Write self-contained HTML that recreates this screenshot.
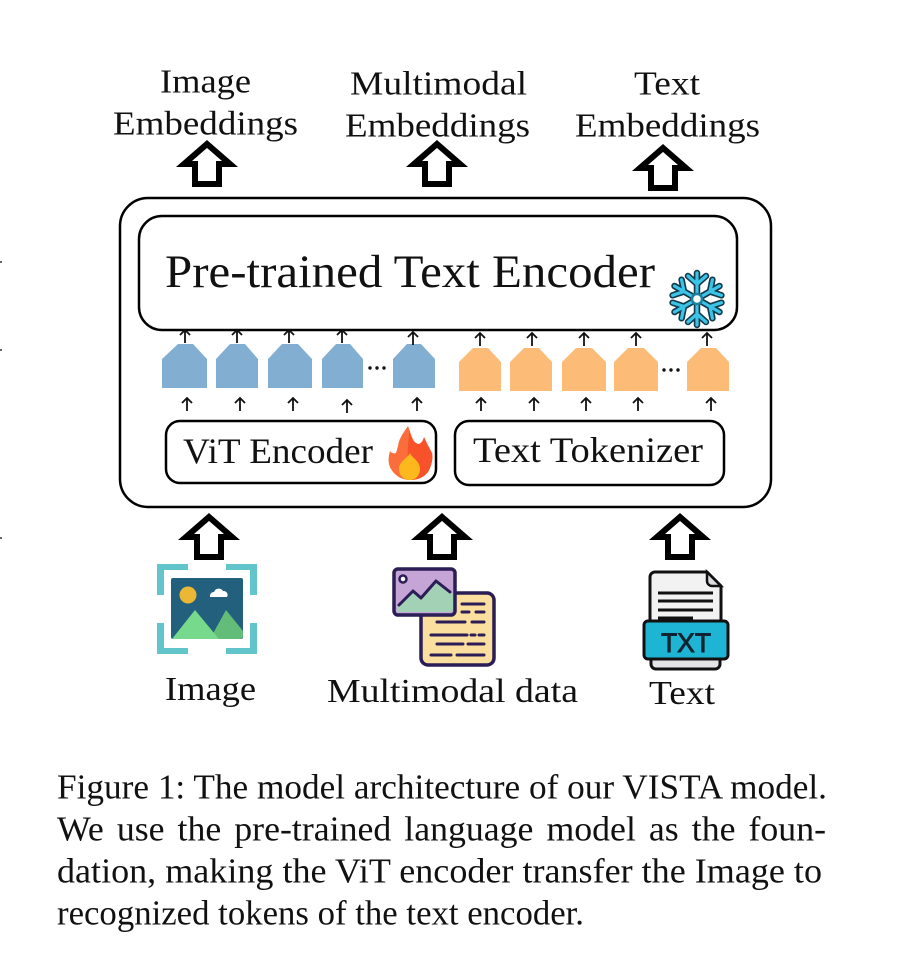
<!DOCTYPE html>
<html><head><meta charset="utf-8"><style>
html,body{margin:0;padding:0;background:#fff}
svg{display:block}
text{font-family:"Liberation Serif",serif;fill:#111}
</style></head><body>
<svg width="900" height="964" viewBox="0 0 900 964" xmlns="http://www.w3.org/2000/svg">
<defs>
<path id="big" d="M0 3L23 23H12V43H-12V23H-23Z" fill="#fff" stroke="#000" stroke-width="6" stroke-linejoin="miter"/>
<path id="sm" d="M0 14V1M-5 6L0 1L5 6" fill="none" stroke="#111" stroke-width="1.8"/>
<g id="arm" fill="none" stroke-linecap="round"><path d="M0 -6V-26M0 -15L-9 -23M0 -15L9 -23"/></g>
</defs>
<rect width="900" height="964" fill="#fff"/>
<!-- stray ticks -->
<path d="M0 262h2M0 350h2M0 538h2" stroke="#333" stroke-width="1.5"/>

<!-- top labels -->
<text x="160" y="92.5" font-size="34" textLength="91" lengthAdjust="spacingAndGlyphs">Image</text>
<text x="113" y="134.5" font-size="34" textLength="185" lengthAdjust="spacingAndGlyphs">Embeddings</text>
<text x="350" y="94.5" font-size="34" textLength="177" lengthAdjust="spacingAndGlyphs">Multimodal</text>
<text x="345" y="136.5" font-size="34" textLength="185" lengthAdjust="spacingAndGlyphs">Embeddings</text>
<text x="634" y="94.5" font-size="34" textLength="66" lengthAdjust="spacingAndGlyphs">Text</text>
<text x="575" y="136.5" font-size="34" textLength="185" lengthAdjust="spacingAndGlyphs">Embeddings</text>

<!-- big arrows -->
<use href="#big" x="207" y="141"/>
<use href="#big" x="437" y="141"/>
<use href="#big" x="663" y="145"/>
<use href="#big" x="209" y="514"/>
<use href="#big" x="442" y="514"/>
<use href="#big" x="680" y="514"/>

<!-- boxes -->
<rect x="120" y="198" width="651" height="309" rx="28" fill="#fff" stroke="#000" stroke-width="2.5"/>
<rect x="139" y="216" width="598" height="114" rx="23" fill="#fff" stroke="#000" stroke-width="2.5"/>
<rect x="166" y="421" width="270" height="62" rx="14" fill="#fff" stroke="#000" stroke-width="2.5"/>
<rect x="455" y="421" width="269" height="64" rx="14" fill="#fff" stroke="#000" stroke-width="2.5"/>

<text x="165" y="287" font-size="47" textLength="490" lengthAdjust="spacingAndGlyphs">Pre-trained Text Encoder</text>
<text x="183" y="463" font-size="36" textLength="190" lengthAdjust="spacingAndGlyphs">ViT Encoder</text>
<text x="473" y="462" font-size="36" textLength="230" lengthAdjust="spacingAndGlyphs">Text Tokenizer</text>

<!-- blue tokens -->
<g fill="#82aed2">
<path d="M162 359L178 344H193L207 359V388H162Z"/>
<path d="M216 359L230 344H245L258 359V388H216Z"/>
<path d="M268 359L282 344H298L312 359V388H268Z"/>
<path d="M322 359L336 344H350L363 359V388H322Z"/>
<path d="M393 359L407 344H421L435 359V388H393Z"/>
</g>
<!-- orange tokens -->
<g fill="#fdbb78">
<path d="M459 362L473 348H488L501 362V391H459Z"/>
<path d="M510 362L524 348H539L552 362V391H510Z"/>
<path d="M562 362L576 348H592L606 362V391H562Z"/>
<path d="M614 362L628 348H644L658 362V391H614Z"/>
<path d="M687 362L701 348H716L729 362V391H687Z"/>
</g>
<g fill="#111">
<circle cx="370" cy="368" r="1.7"/><circle cx="377" cy="368" r="1.7"/><circle cx="384" cy="368" r="1.7"/>
<circle cx="664" cy="370" r="1.7"/><circle cx="671" cy="370" r="1.7"/><circle cx="678" cy="370" r="1.7"/>
</g>

<!-- small arrows -->
<use href="#sm" x="185" y="329"/><use href="#sm" x="237" y="329"/><use href="#sm" x="289" y="329"/><use href="#sm" x="342" y="329"/><use href="#sm" x="413" y="331"/>
<use href="#sm" x="480" y="332"/><use href="#sm" x="532" y="332"/><use href="#sm" x="584" y="332"/><use href="#sm" x="636" y="332"/><use href="#sm" x="707" y="332"/>
<use href="#sm" x="187" y="397"/><use href="#sm" x="240" y="397"/><use href="#sm" x="293" y="397"/><use href="#sm" x="347" y="399"/><use href="#sm" x="417" y="397"/>
<use href="#sm" x="481" y="397"/><use href="#sm" x="534" y="397"/><use href="#sm" x="586" y="397"/><use href="#sm" x="638" y="397"/><use href="#sm" x="711" y="397"/>

<!-- flame -->
<path d="M408 426C404 432 399 438 398 446L396 453C394 454 391 453 390 451C388 458 388 464 391 469C395 476 402 480 410 480C419 480 427 476 430 468C432 463 433 458 432 453C430 449 427 444 424 437C423 441 421 444 418 444C412 442 411 434 408 426Z" fill="#fb6d3a"/>
<path d="M408 426C412 434 404 444 410 480C419 480 427 476 430 468C432 463 433 458 432 453C430 449 427 444 424 437C423 441 421 444 418 444C412 442 411 434 408 426Z" fill="#f8522a"/>
<path d="M410 453C412 458 420 461 420 469C420 476 415 480 410 480C404 480 399 476 399 469C399 461 407 459 410 453Z" fill="#fdb81e"/>

<!-- snowflake -->
<g transform="translate(697 299)">
<g stroke="#123a4c" stroke-width="6.5"><use href="#arm"/><use href="#arm" transform="rotate(60)"/><use href="#arm" transform="rotate(120)"/><use href="#arm" transform="rotate(180)"/><use href="#arm" transform="rotate(240)"/><use href="#arm" transform="rotate(300)"/></g>
<g stroke="#3cc4e6" stroke-width="3.2"><use href="#arm"/><use href="#arm" transform="rotate(60)"/><use href="#arm" transform="rotate(120)"/><use href="#arm" transform="rotate(180)"/><use href="#arm" transform="rotate(240)"/><use href="#arm" transform="rotate(300)"/></g>
<circle r="5" fill="#fff" stroke="#1f7f9e" stroke-width="2.5"/>
</g>

<!-- image icon -->
<g fill="#63c5cc">
<path d="M157 564H188V570H164V595H157Z"/>
<path d="M226 564H257V595H250V570H226Z"/>
<path d="M157 623H164V648H188V654H157Z"/>
<path d="M250 623H257V654H226V648H250Z"/>
</g>
<rect x="171" y="578" width="72" height="61" rx="2" fill="#22607e"/>
<circle cx="188" cy="595" r="8.5" fill="#ebb734"/>
<path d="M210 597a4 4 0 0 1 4-5a5 5 0 0 1 9-1a4 4 0 0 1 4 6Z" fill="#fff"/>
<path d="M210 639L226 610L243 631V636a3 3 0 0 1-3 3Z" fill="#63bd78"/>
<path d="M172 639L195 610L219 639Z" fill="#76d98b"/>

<!-- multimodal icon -->
<rect x="421" y="593" width="73" height="72" rx="7" fill="#fbdf9f" stroke="#2b1d55" stroke-width="3.5"/>
<g stroke="#2b1d55" stroke-width="3" fill="none" stroke-linecap="round">
<path d="M462 604H484M462 612H469M476 612H484M437 622H465M472 622H484M431 635H467M471 635H475M479 635H484M437 644H463M468 644H484M431 655H451M457 655H484"/>
</g>
<rect x="394" y="569" width="61" height="46" rx="4" fill="#c5a5d5"/>
<path d="M397 607L413 590L421 597L436 581L453 594V609a3 3 0 0 1-3 3H397Z" fill="#a3d1b6"/>
<rect x="394" y="569" width="61" height="46" rx="4" fill="none" stroke="#2b1d55" stroke-width="3.5"/>
<path d="M399 605L413 591L421 598L436 581L450 592" fill="none" stroke="#2b1d55" stroke-width="3" stroke-linecap="round" stroke-linejoin="round"/>
<circle cx="403" cy="579" r="3.5" fill="#fff" stroke="#2b1d55" stroke-width="2.5"/>

<!-- txt icon -->
<path d="M651 655H720V664a5 5 0 0 1-5 5H656a5 5 0 0 1-5-5Z" fill="#e4e4e6" stroke="#111" stroke-width="3"/>
<path d="M650 625V577a5 5 0 0 1 5-5H707L721 586V625Z" fill="#f2f2f3" stroke="#111" stroke-width="3"/>
<path d="M707 572V581a5 5 0 0 0 5 5H721Z" fill="#dcdde0" stroke="#111" stroke-width="2.5"/>
<path d="M658 593H713M658 601H713M658 610H713M658 618H693" stroke="#111" stroke-width="3"/>
<rect x="644" y="621" width="84" height="38" rx="4" fill="#1eb4d4" stroke="#111" stroke-width="3"/>
<text x="661" y="652" font-size="27" textLength="50" lengthAdjust="spacingAndGlyphs" stroke="#0f2430" stroke-width="0.9" style="font-family:'Liberation Sans',sans-serif;fill:#0f2430">TXT</text>

<!-- bottom labels -->
<text x="165" y="700" font-size="34" textLength="91" lengthAdjust="spacingAndGlyphs">Image</text>
<text x="327" y="702" font-size="34" textLength="251" lengthAdjust="spacingAndGlyphs">Multimodal data</text>
<text x="649" y="704" font-size="34" textLength="66" lengthAdjust="spacingAndGlyphs">Text</text>

<!-- caption -->
<text x="57" y="798.5" font-size="35" textLength="770" lengthAdjust="spacingAndGlyphs">Figure 1: The model architecture of our VISTA model.</text>
<text x="57" y="840.5" font-size="35" word-spacing="4" textLength="769" lengthAdjust="spacingAndGlyphs">We use the pre-trained language model as the foun-</text>
<text x="57" y="882.5" font-size="35" textLength="765" lengthAdjust="spacingAndGlyphs">dation, making the ViT encoder transfer the Image to</text>
<text x="57" y="924.5" font-size="35" textLength="527" lengthAdjust="spacingAndGlyphs">recognized tokens of the text encoder.</text>
</svg>
</body></html>
